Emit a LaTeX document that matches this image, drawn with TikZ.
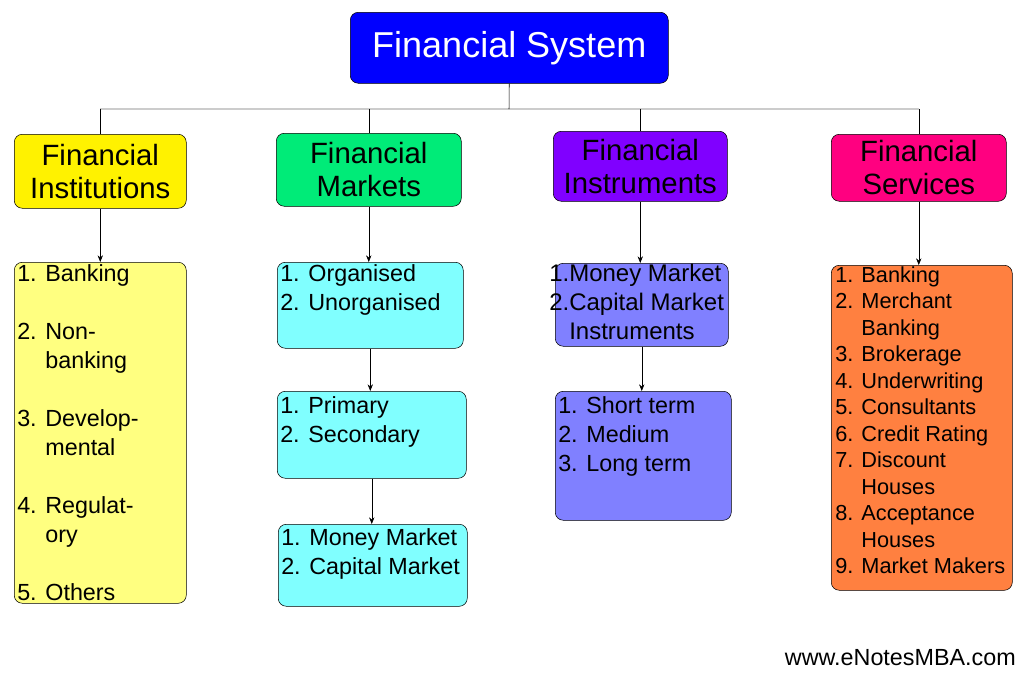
\documentclass[tikz,border=0pt]{standalone}
\usepackage{fontspec}
\setmainfont{Liberation Sans}
\usetikzlibrary{arrows.meta}
\begin{document}
\begin{tikzpicture}[x=0.75pt,y=-0.75pt,
 bx/.style={draw=black,rounded corners=6pt,anchor=north west,inner sep=0pt},
 hd/.style={bx,font=\fontsize{22}{25}\selectfont,align=center},
 ls/.style={bx},
 tx/.style={anchor=north west,align=left,inner sep=0pt,font=\fontsize{17.5}{21.75}\selectfont},
 ar/.style={-{Stealth[length=5pt,width=4pt]},black,thin}]
\useasboundingbox (0,0) rectangle (1021,672);
\definecolor{cfs}{RGB}{0,0,255}
\node[bx,fill=cfs,minimum width=318*0.75pt,minimum height=71*0.75pt,text=white,font=\fontsize{27}{29}\selectfont] (fs) at (350,12) {Financial System};
\node[hd,fill=yellow,minimum width=172*0.75pt,minimum height=74*0.75pt] (h1) at (14,134) {Financial\\Institutions};
\node[hd,fill={rgb,255:red,0;green,235;blue,120},minimum width=185*0.75pt,minimum height=73*0.75pt] (h2) at (276,133) {Financial\\Markets};
\node[hd,fill={rgb,255:red,128;green,0;blue,255},minimum width=174*0.75pt,minimum height=70*0.75pt] (h3) at (553,131) {Financial\\Instruments};
\node[hd,fill={rgb,255:red,255;green,0;blue,128},minimum width=175*0.75pt,minimum height=67*0.75pt] (h4) at (831,134) {Financial\\Services};
\coordinate (j) at (509,109);
\draw[gray!40,line width=1.2pt] (h1.north |- j) coordinate (l) -- (h4.north |- j) coordinate (r);
\draw (fs.south) -- (j);
\draw (l) -- (h1.north); \draw (h2.north |- j) -- (h2.north); \draw (h3.north |- j) -- (h3.north); \draw (r) -- (h4.north);
% lists
\node[ls,fill={rgb,255:red,255;green,255;blue,128},minimum width=172*0.75pt,minimum height=341*0.75pt] (l1) at (14,262) {};
\node[tx] at (17,264) {1. Banking\\[21.75pt]2. Non-\\\phantom{2. }banking\\[21.75pt]3. Develop-\\\phantom{3. }mental\\[21.75pt]4. Regulat-\\\phantom{4. }ory\\[21.75pt]5. Others};
\node[ls,fill={rgb,255:red,128;green,255;blue,255},minimum width=186*0.75pt,minimum height=86*0.75pt] (m1) at (277,262) {};
\node[tx] at (280,264) {1. Organised\\2. Unorganised};
\node[ls,fill={rgb,255:red,128;green,255;blue,255},minimum width=189*0.75pt,minimum height=87*0.75pt] (m2) at (277,391) {};
\node[tx] at (280,396) {1. Primary\\2. Secondary};
\node[ls,fill={rgb,255:red,128;green,255;blue,255},minimum width=189*0.75pt,minimum height=82*0.75pt] (m3) at (278,524) {};
\node[tx] at (281,528) {1. Money Market\\2. Capital Market};
\node[ls,fill={rgb,255:red,128;green,128;blue,255},minimum width=173*0.75pt,minimum height=83*0.75pt] (n1) at (555,263) {};
\node[tx,font=\fontsize{18}{21.75}\selectfont] at (549,264) {1.Money Market\\2.Capital Market\\\phantom{2.}Instruments};
\node[ls,fill={rgb,255:red,128;green,128;blue,255},minimum width=176*0.75pt,minimum height=129*0.75pt] (n2) at (555,391) {};
\node[tx] at (558,396) {1. Short term\\2. Medium\\3. Long term};
\node[ls,fill={rgb,255:red,255;green,128;blue,64},minimum width=181*0.75pt,minimum height=325*0.75pt] (s1) at (831,265) {};
\node[tx,font=\fontsize{16.3}{19.9}\selectfont] at (835,266) {1. Banking\\2. Merchant\\\phantom{2. }Banking\\3. Brokerage\\4. Underwriting\\5. Consultants\\6. Credit Rating\\7. Discount\\\phantom{7. }Houses\\8. Acceptance\\\phantom{8. }Houses\\9. Market Makers};
\draw[ar] (h1.south) -- (l1.north -| h1.south);
\draw[ar] (h2.south) -- (h2.south |- m1.north);
\draw[ar] (m1.south) -- (m1.south |- m2.north);
\draw[ar] (m2.south) -- (m2.south |- m3.north);
\draw[ar] (h3.south) -- (h3.south |- n1.north);
\draw[ar] (n1.south) -- (n1.south |- n2.north);
\draw[ar] (h4.south) -- (h4.south |- s1.north);
\node[anchor=east,font=\fontsize{17.5}{19}\selectfont,inner sep=0pt] (url) at (1016,658) {www.eNotesMBA.com};
\end{tikzpicture}
\end{document}
